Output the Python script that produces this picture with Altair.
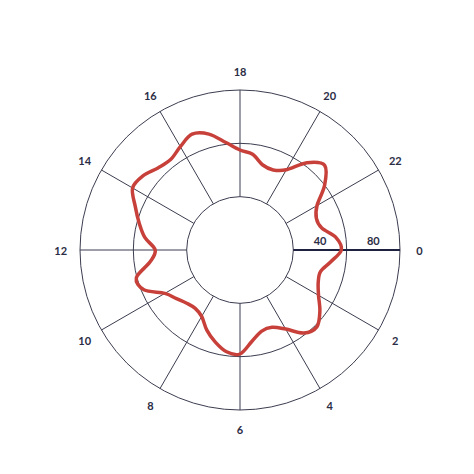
import altair as alt
import pandas as pd

# ---- data ----
hours = [0, 0.5, 1, 1.5, 2, 2.5, 3, 3.5, 4, 4.5, 5, 5.5,
         6, 6.5, 7, 7.5, 8, 8.5, 9, 9.5, 10, 10.5, 11, 11.5,
         12, 12.5, 13, 13.5, 14, 14.5, 15, 15.5, 16, 16.5, 17, 17.5,
         18, 18.5, 19, 19.5, 20, 20.5, 21, 21.5, 22, 22.5, 23, 23.5]
values = [56, 48.5, 42.5, 43.5, 48, 55.5, 61.5, 58.5, 48.5, 42.8, 43, 49,
          58, 57, 51.5, 45, 37.5, 35.2, 36.5, 40, 45, 58, 60.5, 48,
          43.6, 52, 58.3, 65, 73, 71.5, 67, 65.5, 69.5, 74, 70, 61.3,
          55, 52.4, 46, 45, 49.5, 62.5, 69.8, 60, 46.7, 42, 43.5, 52.5]

grid_values = [20, 60, 100]          # radial grid circles (inner edge, middle, outer)
spoke_hours = [0, 2, 4, 6, 8, 10, 12, 14, 16, 18, 20, 22]
hour_labels = ["0", "2", "4", "6", "8", "10", "12", "14", "16", "18", "20", "22"]
radial_ticks = [40, 80]
radial_labels = ["40", "80"]

R_OFF = 20      # radial offset (value 20 sits at the inner hole edge)
R_MAX = 100     # outer circle value
LABEL_V = 114.5 # where hour labels sit
PLOT = 320      # plot area size in px

ink = "#2b2d45"
grid_col = "#3b3d4f"
red = "#c8403a"

dom = [-(R_MAX + R_OFF), R_MAX + R_OFF]
xs = alt.Scale(domain=dom)
ys = alt.Scale(domain=dom)

curve_df = pd.DataFrame({"h": hours, "v": values})
grid_df = pd.DataFrame({"v": grid_values})
spoke_df = pd.DataFrame({"h": spoke_hours, "label": hour_labels})
rad_df = pd.DataFrame({"v": radial_ticks, "label": radial_labels})

xexpr = "(datum.v + %d) * cos(datum.h * PI / 12)" % R_OFF
yexpr = "-(datum.v + %d) * sin(datum.h * PI / 12)" % R_OFF

# grid circles: hollow circle symbols (Vega circle size = diameter^2)
circles = alt.Chart(grid_df).transform_calculate(
    rr="datum.v + %d" % R_OFF, cx="0", cy="0"
).mark_point(shape="circle", filled=False, color=grid_col, strokeWidth=1, opacity=1).encode(
    x=alt.X("cx:Q", scale=xs, axis=None),
    y=alt.Y("cy:Q", scale=ys, axis=None),
    size=alt.Size("rr:Q", scale=alt.Scale(type="pow", exponent=2, zero=True,
                                          domain=[0, R_MAX + R_OFF],
                                          range=[0, PLOT ** 2]),
                  legend=None),
)

spokes = alt.Chart(spoke_df).transform_calculate(
    x1="%d * cos(datum.h * PI / 12)" % (grid_values[0] + R_OFF),
    y1="-%d * sin(datum.h * PI / 12)" % (grid_values[0] + R_OFF),
    x2="%d * cos(datum.h * PI / 12)" % (R_MAX + R_OFF),
    y2="-%d * sin(datum.h * PI / 12)" % (R_MAX + R_OFF),
)
spoke_lines = spokes.mark_rule(color=grid_col, strokeWidth=1).encode(
    x=alt.X("x1:Q", scale=xs, axis=None),
    y=alt.Y("y1:Q", scale=ys, axis=None),
    x2="x2:Q", y2="y2:Q",
)
axis_line = spokes.transform_filter("datum.h == 0").mark_rule(color="#1e2140", strokeWidth=2).encode(
    x=alt.X("x1:Q", scale=xs, axis=None),
    y=alt.Y("y1:Q", scale=ys, axis=None),
    x2="x2:Q", y2="y2:Q",
)

hour_text = alt.Chart(spoke_df).transform_calculate(
    lx="%f * cos(datum.h * PI / 12)" % (LABEL_V + R_OFF),
    ly="-%f * sin(datum.h * PI / 12)" % (LABEL_V + R_OFF),
).mark_text(font="Lato", fontWeight="bold", fontSize=11, color=ink,
            align="center", baseline="middle", dy=2).encode(
    x=alt.X("lx:Q", scale=xs, axis=None),
    y=alt.Y("ly:Q", scale=ys, axis=None),
    text="label:N",
)

rad_text = alt.Chart(rad_df).transform_calculate(
    lx="datum.v + %d" % R_OFF, ly="0"
).mark_text(font="Lato", fontWeight="bold", fontSize=11, color=ink,
            align="center", baseline="middle", dy=-8).encode(
    x=alt.X("lx:Q", scale=xs, axis=None),
    y=alt.Y("ly:Q", scale=ys, axis=None),
    text="label:N",
)

curve = alt.Chart(curve_df).transform_calculate(
    x=xexpr, y=yexpr
).mark_line(interpolate="cardinal-closed", color=red, strokeWidth=3.5,
            strokeCap="round", strokeJoin="round").encode(
    x=alt.X("x:Q", scale=xs, axis=None),
    y=alt.Y("y:Q", scale=ys, axis=None),
    order="h:Q",
)

chart = alt.layer(circles, spoke_lines, axis_line, hour_text, rad_text, curve).properties(
    width=PLOT, height=PLOT,
    autosize=alt.AutoSizeParams(type="none"),
    padding={"left": 72, "top": 82, "right": 60, "bottom": 40},
    background="white",
).configure_view(strokeWidth=0)

chart.save("out.html", embed_options={"renderer": "svg", "actions": False})
